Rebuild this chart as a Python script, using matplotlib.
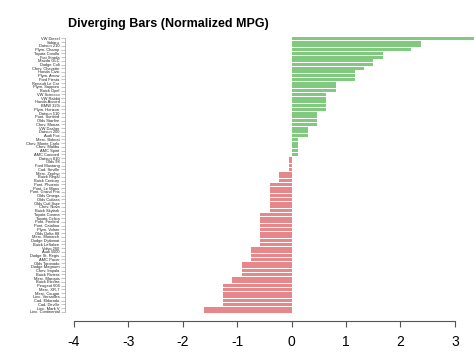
import matplotlib
matplotlib.use("Agg")
import matplotlib.pyplot as plt

# carros ordenados de baixo (menor mpg) para cima (maior mpg)
cars = [
    "Linc. Continental", "Linc. Mark V", "Cad. Deville", "Cad. Eldorado", "Linc. Versailles",
    "Merc. Cougar", "Merc. XR-7", "Peugeot 604", "Buick Electra", "Merc. Marquis",
    "Buick Riviera", "Chev. Impala", "Dodge Magnum", "Olds Toronado", "AMC Pacer",
    "Dodge St. Regis", "Audi 5000", "Volvo 260", "Buick LeSabre", "Dodge Diplomat",
    "Merc. Monarch", "Olds Delta 88", "Plym. Volare", "Pont. Catalina", "Pont. Firebird",
    "Toyota Celica", "Toyota Corona", "Buick Skylark", "Chev. Nova", "Olds Cutl Supr",
    "Olds Cutlass", "Olds Omega", "Pont. Grand Prix", "Pont. Le Mans", "Pont. Phoenix",
    "Buick Century", "Buick Regal", "Merc. Zephyr", "Cad. Seville", "Ford Mustang",
    "Olds 98", "Datsun 810", "AMC Concord", "AMC Spirit", "Chev. Malibu",
    "Chev. Monte Carlo", "Merc. Bobcat", "Audi Fox", "Datsun 200", "VW Dasher",
    "Chev. Monza", "Olds Starfire", "Pont. Sunbird", "Datsun 510", "Plym. Horizon",
    "BMW 320i", "Honda Accord", "VW Rabbit", "VW Scirocco", "Buick Opel",
    "Plym. Sapporo", "Renault Le Car", "Ford Fiesta", "Plym. Arrow", "Honda Civic",
    "Chev. Chevette", "Dodge Colt", "Mazda GLC", "Fiat Strada", "Toyota Corolla",
    "Plym. Champ", "Datsun 210", "Subaru", "VW Diesel",
]

mpg_z = [
    -1.607, -1.607, -1.261, -1.261, -1.261,
    -1.261, -1.261, -1.261, -1.089, -1.089,
    -0.916, -0.916, -0.916, -0.916, -0.743,
    -0.743, -0.743, -0.743, -0.570, -0.570,
    -0.570, -0.570, -0.570, -0.570, -0.570,
    -0.570, -0.570, -0.397, -0.397, -0.397,
    -0.397, -0.397, -0.397, -0.397, -0.397,
    -0.224, -0.224, -0.224, -0.051, -0.051,
    -0.051, -0.051, 0.122, 0.122, 0.122,
    0.122, 0.122, 0.294, 0.294, 0.294,
    0.467, 0.467, 0.467, 0.467, 0.640,
    0.640, 0.640, 0.640, 0.640, 0.813,
    0.813, 0.813, 1.159, 1.159, 1.159,
    1.331, 1.504, 1.504, 1.677, 1.677,
    2.196, 2.369, 2.369, 3.406,
]

xticks = [-4, -3, -2, -1, 0, 1, 2, 3]

plt.rcParams['font.family'] = ['Liberation Sans', 'DejaVu Sans']

fig = plt.figure(figsize=(4.74, 3.55), dpi=100)
ax = fig.add_axes([0.137, 0.1155, 0.863, 0.783])

cores = ['#80c97f' if v >= 0 else '#e8878a' for v in mpg_z]
ax.barh(range(len(cars)), mpg_z, height=0.8, color=cores)

ax.set_xlim(-4.16, 3.35)
ax.set_ylim(-0.6, len(cars) - 0.4)
ax.set_yticks(range(len(cars)))
ax.set_yticklabels(cars, fontsize=2.9, color='#222222')
ax.set_xticks(xticks)
ax.set_xticklabels([str(t) for t in xticks], fontsize=8)

ax.spines['top'].set_visible(False)
ax.spines['right'].set_visible(False)
ax.spines['bottom'].set_bounds(-4, 3)
ax.spines['bottom'].set_position(('outward', 5))
ax.spines['bottom'].set_color('#555555')
ax.spines['left'].set_bounds(0, len(cars) - 1)
ax.spines['left'].set_color('#999999')
ax.spines['left'].set_linewidth(0.5)
ax.tick_params(axis='x', length=4, color='#555555', pad=6)
ax.tick_params(axis='y', length=3, width=0.4, color='#999999', pad=1)

fig.text(0.143, 0.925, 'Diverging Bars (Normalized MPG)', fontsize=9, fontweight='bold')

fig.savefig("out.png", dpi=100)
